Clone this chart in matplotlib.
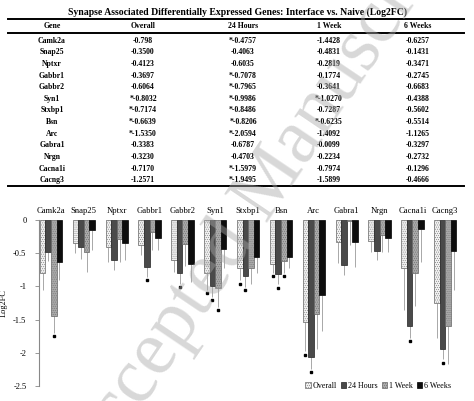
import numpy as np
import matplotlib
matplotlib.use("Agg")
import matplotlib.pyplot as plt
from matplotlib.lines import Line2D
from matplotlib.patches import Patch

plt.rcParams['font.family'] = ['Liberation Serif', 'DejaVu Serif']
plt.rcParams['hatch.linewidth'] = 0.3

# ---- data, as printed in the table ----
genes = ['Camk2a', 'Snap25', 'Nptxr', 'Gabbr1', 'Gabbr2', 'Syn1', 'Stxbp1',
         'Bsn', 'Arc', 'Gabra1', 'Nrgn', 'Cacna1i', 'Cacng3']
series = ['Overall', '24 Hours', '1 Week', '6 Weeks']

overall = ['-0.798', '-0.3500', '-0.4123', '-0.3697', '-0.6064', '*-0.8032', '*-0.7174',
           '*-0.6639', '*-1.5350', '-0.3383', '-0.3230', '-0.7170', '-1.2571']
hours24 = ['*-0.4757', '-0.4063', '-0.6035', '*-0.7078', '*-0.7965', '*-0.9986', '*-0.8486',
           '*-0.8206', '*-2.0594', '-0.6787', '-0.4703', '*-1.5979', '*-1.9495']
week1 = ['-1.4428', '-0.4831', '-0.2819', '-0.1774', '-0.3641', '*-1.0270', '-0.7287',
         '*-0.6235', '-1.4092', '-0.0099', '-0.2234', '-0.7974', '-1.5899']
weeks6 = ['-0.6257', '-0.1431', '-0.3471', '-0.2745', '-0.6683', '-0.4388', '-0.5602',
          '-0.5514', '-1.1265', '-0.3297', '-0.2732', '-0.1296', '-0.4666']

# lower ends of the error bars
err_overall = [-1.05, -0.50, -0.63, -0.53, -0.78, -1.05, -0.91, -0.80, -1.98, -0.65, -0.48, -1.35, -1.77]
err_24h = [-0.62, -0.58, -0.76, -0.86, -0.96, -1.16, -1.01, -0.97, -2.24, -0.83, -0.60, -1.77, -2.10]
err_1wk = [-1.70, -0.78, -0.63, -0.45, -0.70, -1.31, -0.96, -0.80, -1.94, -0.38, -0.48, -1.29, -2.17]
err_6wk = [-0.91, -0.45, -0.60, -0.45, -0.93, -0.73, -0.80, -0.73, -1.67, -0.71, -0.48, -0.63, -1.06]

# significance dots drawn in the chart
dots_overall = ['Syn1', 'Stxbp1', 'Bsn', 'Arc']
dots_24h = ['Gabbr1', 'Gabbr2', 'Syn1', 'Stxbp1', 'Bsn', 'Arc', 'Cacna1i', 'Cacng3']
dots_1wk = ['Camk2a', 'Syn1', 'Bsn']
dots_6wk = []

W, H = 474, 401
fig = plt.figure(figsize=(W / 100, H / 100), dpi=100)


def fx(x):
    return x / W


def fy(y):
    return 1 - y / H


# ---- table ----
fig.text(fx(237), fy(12), 'Synapse Associated Differentially Expressed Genes: Interface vs. Naive (Log2FC)',
         ha='center', va='center', fontsize=7, fontweight='bold')
for yy in [19, 32.5, 186]:
    fig.add_artist(Line2D([fx(8), fx(464)], [fy(yy), fy(yy)], color='black', lw=1.4))

col_x = [52, 143, 243, 329, 418]
headers = ['Gene'] + series
for cx, hdr in zip(col_x, headers):
    fig.text(fx(cx), fy(26), hdr, ha='center', va='center', fontsize=5.6, fontweight='bold')

columns = [genes, overall, hours24, week1, weeks6]
for i in range(len(genes)):
    yy = 40.7 + i * 11.63
    for cx, col in zip(col_x, columns):
        fig.text(fx(cx), fy(yy), col[i], ha='center', va='center', fontsize=5.6, fontweight='bold')

# ---- bar chart ----
ax = fig.add_axes([fx(39), fy(386), fx(466) - fx(39), fy(220) - fy(386)])

vals = [[float(s.lstrip('*')) for s in col] for col in [overall, hours24, week1, weeks6]]
errs = [err_overall, err_24h, err_1wk, err_6wk]
dots = [dots_overall, dots_24h, dots_1wk, dots_6wk]
faces = ['#f0f0f0', '#4a4a4a', '#a9a9a9', '#0d0d0d']
hatches = ['........', None, '........', None]
edges = ['#666666', '#222222', '#666666', '#000000']

x = np.arange(len(genes))
w = 0.17
for k in range(4):
    xs = x + (k - 1.5) * w
    ax.bar(xs, vals[k], width=w, color=faces[k], hatch=hatches[k], edgecolor=edges[k],
           linewidth=0.5, label=series[k], zorder=2)
    ax.vlines(xs, vals[k], errs[k], color='#9a9a9a', lw=0.6, zorder=1)
    for g in dots[k]:
        j = genes.index(g)
        ax.plot(xs[j], errs[k][j] - 0.05, 's', color='black', ms=1.8, zorder=3)

for j, g in enumerate(genes):
    ax.text(x[j], 0.07, g, ha='center', va='bottom', fontsize=6.2)

ax.set_xlim(-0.365, 12.63)
ax.set_ylim(-2.5, 0)
ax.set_yticks([0, -0.5, -1, -1.5, -2, -2.5])
ax.set_yticklabels(['0', '-0.5', '-1', '-1.5', '-2', '-2.5'], fontsize=6)
ax.set_xticks([])
for s in ['top', 'right', 'bottom']:
    ax.spines[s].set_visible(False)
ax.spines['left'].set_color('#888888')
ax.spines['left'].set_linewidth(0.8)
ax.tick_params(axis='y', length=3, width=0.6, color='#888888', pad=6)
ax.set_ylabel('Log2FC', fontsize=6, labelpad=4)
ax.patch.set_alpha(0)

handles = [Patch(facecolor=faces[k], hatch=hatches[k], edgecolor=edges[k], linewidth=0.5)
           for k in range(4)]
fig.legend(handles, series, loc='center', bbox_to_anchor=(fx(378), fy(386)), ncol=4,
           frameon=False, fontsize=5.8, handlelength=0.7, handleheight=0.7,
           handletextpad=0.2, columnspacing=0.5)

# watermark
fig.text(fx(262), fy(196), 'Accepted Manuscript', rotation=56, ha='center', va='center',
         fontsize=56, color='#a8a8a8', alpha=0.45, zorder=10)

fig.savefig('out.png', dpi=100)
